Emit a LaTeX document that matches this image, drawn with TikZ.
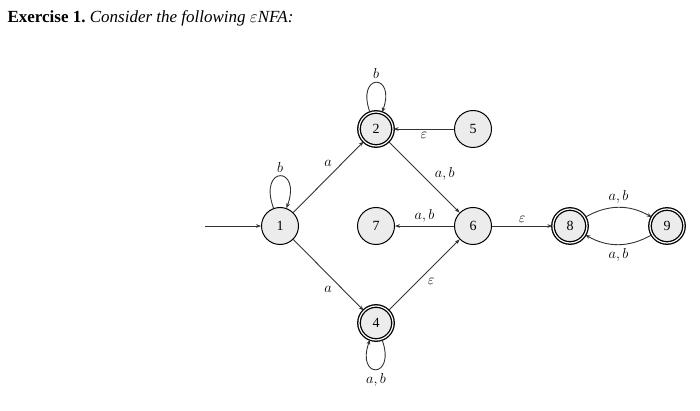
\documentclass[tikz,border=0pt]{standalone}
\usepackage{fontspec}
\setmainfont{Liberation Serif}
\usetikzlibrary{arrows.meta}
\begin{document}
\begin{tikzpicture}[x=1pt,y=-1pt,
  st/.style={circle,draw,fill=gray!15,minimum size=37pt,inner sep=0pt,font=\fontsize{14}{14}\selectfont,line width=1pt},
  acc/.style={st,double,line width=1.3pt,double distance=1.2pt,minimum size=34pt},
  e/.style={-{Stealth[length=5pt]},line width=0.9pt,draw=black!80},
  lb/.style={font=\fontsize{15}{15}\selectfont}]
\useasboundingbox (0,0) rectangle (700,411);
\node[anchor=base west,font=\fontsize{17}{17}\selectfont] (title) at (4,23) {\textbf{Exercise 1.}\ \textit{Consider the following $\varepsilon$NFA:}};
\node[st] (1) at (280,226) {1};
\node[acc] (2) at (376,129) {2};
\node[acc] (4) at (376,323) {4};
\node[st] (5) at (473,129) {5};
\node[st] (6) at (473,226) {6};
\node[st] (7) at (376,226) {7};
\node[acc] (8) at (570,226) {8};
\node[acc] (9) at (667,226) {9};
\coordinate (s) at (205,226);
\draw[e] (s) -- (1);
\draw[e] (1) -- node[lb,above left,pos=0.6]{$a$} (2);
\draw[e] (1) -- node[lb,below left,pos=0.6]{$a$} (4);
\draw[e] (5) -- node[lb,below]{$\varepsilon$} (2);
\draw[e] (2) -- node[lb,above right,pos=0.6]{$a,b$} (6);
\draw[e] (4) -- node[lb,below right,pos=0.5]{$\varepsilon$} (6);
\draw[e] (6) -- node[lb,above]{$a,b$} (7);
\draw[e] (6) -- node[lb,above]{$\varepsilon$} (8);
\draw[e] (8) to[bend left=30] node[lb,above]{$a,b$} (9);
\draw[e] (9) to[bend left=30] node[lb,below]{$a,b$} (8);
\draw[e] (1) to[out=110,in=70,looseness=9] node[lb,above]{$b$} (1);
\draw[e] (2) to[out=110,in=70,looseness=9] node[lb,above]{$b$} (2);
\draw[e] (4) to[out=-70,in=-110,looseness=9] node[lb,below]{$a,b$} (4);
\end{tikzpicture}
\end{document}
